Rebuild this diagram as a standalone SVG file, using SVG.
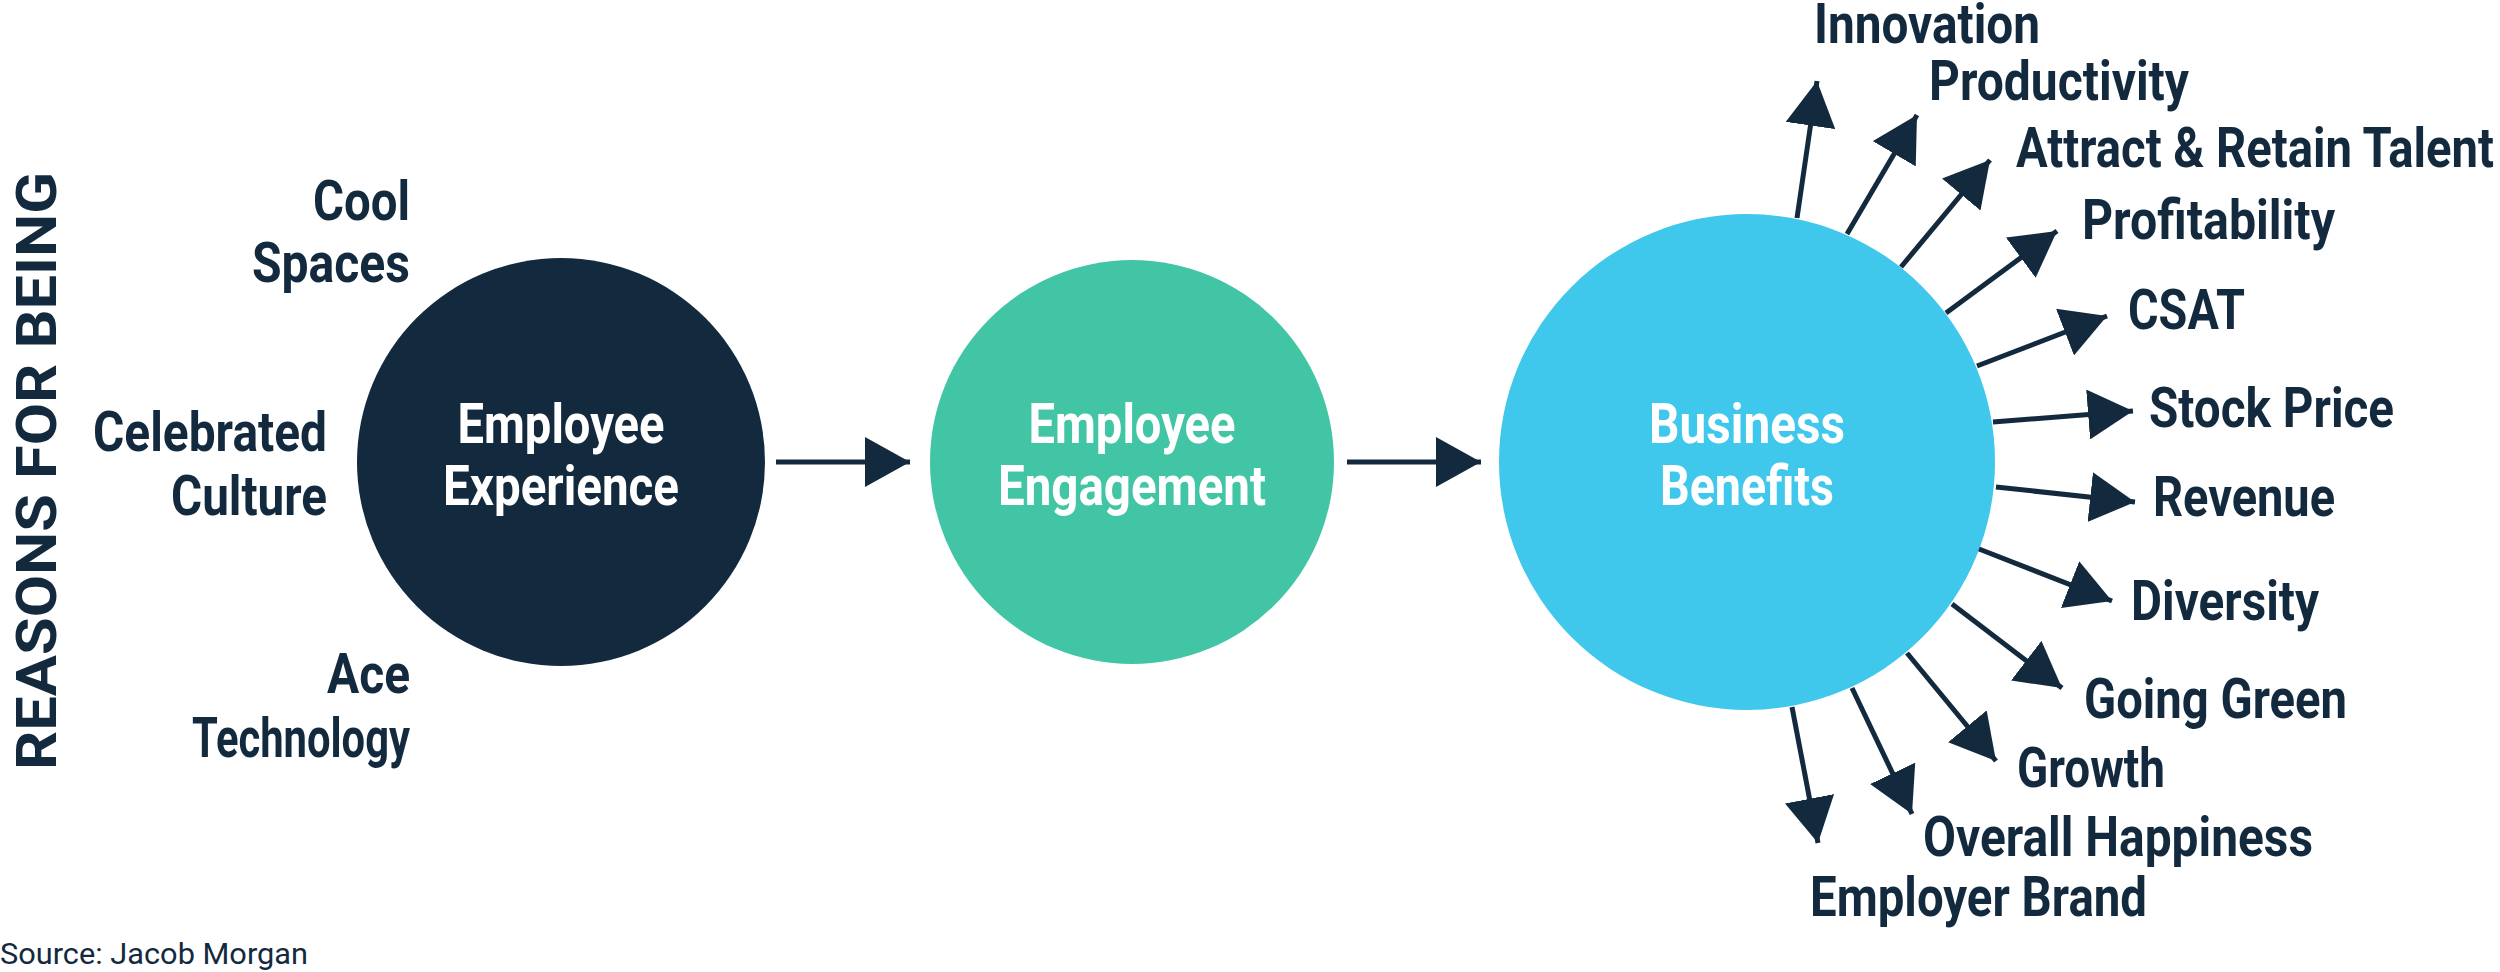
<svg xmlns="http://www.w3.org/2000/svg" width="2500" height="972" viewBox="0 0 2500 972">
<style>
text{font-family:Roboto,"Liberation Sans",sans-serif;font-weight:700;fill:#132a3e;font-size:56px}
.w{fill:#fff;font-size:56px}
.c{text-anchor:middle}
.e{text-anchor:end}
.src{font-weight:400;font-size:30px}
.ln{stroke:#132a3e;stroke-width:5;fill:none}
</style>
<defs>
<marker id="ah" markerUnits="userSpaceOnUse" markerWidth="46" markerHeight="50" refX="45" refY="25" orient="auto">
<path d="M0,0 L45,25 L0,50 z" fill="#132a3e"/>
</marker>
</defs>
<rect width="2500" height="972" fill="#fff"/>
<text transform="translate(56,471) rotate(-90)" class="c" font-size="68" font-weight="900" textLength="598" lengthAdjust="spacingAndGlyphs">REASONS FOR BEING</text>
<g id="reasons">
<text class="e" x="410" y="220" textLength="97" lengthAdjust="spacingAndGlyphs">Cool</text>
<text class="e" x="410" y="282" textLength="158" lengthAdjust="spacingAndGlyphs">Spaces</text>
<text class="e" x="327" y="451" textLength="234" lengthAdjust="spacingAndGlyphs">Celebrated</text>
<text class="e" x="327" y="515" textLength="156" lengthAdjust="spacingAndGlyphs">Culture</text>
<text class="e" x="410" y="693" textLength="83" lengthAdjust="spacingAndGlyphs">Ace</text>
<text class="e" x="410" y="757" textLength="218" lengthAdjust="spacingAndGlyphs">Technology</text>
</g>
<g id="experience">
<circle cx="561" cy="462" r="204" fill="#132a3e"/>
<text class="w c" x="561" y="443" textLength="207" lengthAdjust="spacingAndGlyphs">Employee</text>
<text class="w c" x="561" y="505" textLength="236" lengthAdjust="spacingAndGlyphs">Experience</text>
</g>
<g id="engagement">
<circle cx="1132" cy="462" r="202" fill="#41c5a5"/>
<text class="w c" x="1132" y="443" textLength="207" lengthAdjust="spacingAndGlyphs">Employee</text>
<text class="w c" x="1132" y="505" textLength="268" lengthAdjust="spacingAndGlyphs">Engagement</text>
</g>
<g id="benefits">
<circle cx="1747" cy="462" r="248" fill="#40c7ec"/>
<text class="w c" x="1747" y="443" textLength="196" lengthAdjust="spacingAndGlyphs">Business</text>
<text class="w c" x="1747" y="505" textLength="174" lengthAdjust="spacingAndGlyphs">Benefits</text>
</g>
<g id="outcomes">
<text x="1814" y="43" textLength="226" lengthAdjust="spacingAndGlyphs">Innovation</text>
<text x="1929" y="100" textLength="260" lengthAdjust="spacingAndGlyphs">Productivity</text>
<text x="2016" y="167" textLength="478" lengthAdjust="spacingAndGlyphs">Attract &amp; Retain Talent</text>
<text x="2082" y="239" textLength="253" lengthAdjust="spacingAndGlyphs">Profitability</text>
<text x="2128" y="329" textLength="117" lengthAdjust="spacingAndGlyphs">CSAT</text>
<text x="2149" y="427" textLength="245" lengthAdjust="spacingAndGlyphs">Stock Price</text>
<text x="2153" y="516" textLength="182" lengthAdjust="spacingAndGlyphs">Revenue</text>
<text x="2131" y="620" textLength="188" lengthAdjust="spacingAndGlyphs">Diversity</text>
<text x="2084" y="718" textLength="263" lengthAdjust="spacingAndGlyphs">Going Green</text>
<text x="2017" y="787" textLength="148" lengthAdjust="spacingAndGlyphs">Growth</text>
<text x="1923" y="856" textLength="390" lengthAdjust="spacingAndGlyphs">Overall Happiness</text>
<text x="1810" y="916" textLength="337" lengthAdjust="spacingAndGlyphs">Employer Brand</text>
</g>
<g id="connectors">
<line class="ln" x1="776" y1="462" x2="910" y2="462" marker-end="url(#ah)"/>
<line class="ln" x1="1347" y1="462" x2="1481" y2="462" marker-end="url(#ah)"/>
<line class="ln" x1="1797" y1="218" x2="1817" y2="81" marker-end="url(#ah)"/>
<line class="ln" x1="1847" y1="234" x2="1917" y2="115" marker-end="url(#ah)"/>
<line class="ln" x1="1901" y1="267" x2="1990" y2="160" marker-end="url(#ah)"/>
<line class="ln" x1="1946" y1="313" x2="2057" y2="231" marker-end="url(#ah)"/>
<line class="ln" x1="1977" y1="366" x2="2107" y2="316" marker-end="url(#ah)"/>
<line class="ln" x1="1993" y1="422" x2="2133" y2="411" marker-end="url(#ah)"/>
<line class="ln" x1="1996" y1="487" x2="2135" y2="502" marker-end="url(#ah)"/>
<line class="ln" x1="1979" y1="549" x2="2112" y2="601" marker-end="url(#ah)"/>
<line class="ln" x1="1952" y1="604" x2="2062" y2="688" marker-end="url(#ah)"/>
<line class="ln" x1="1907" y1="653" x2="1996" y2="761" marker-end="url(#ah)"/>
<line class="ln" x1="1852" y1="688" x2="1912" y2="814" marker-end="url(#ah)"/>
<line class="ln" x1="1792" y1="707" x2="1818" y2="843" marker-end="url(#ah)"/>
</g>
<text class="src" x="0" y="964" textLength="308" lengthAdjust="spacingAndGlyphs">Source: Jacob Morgan</text>
</svg>
